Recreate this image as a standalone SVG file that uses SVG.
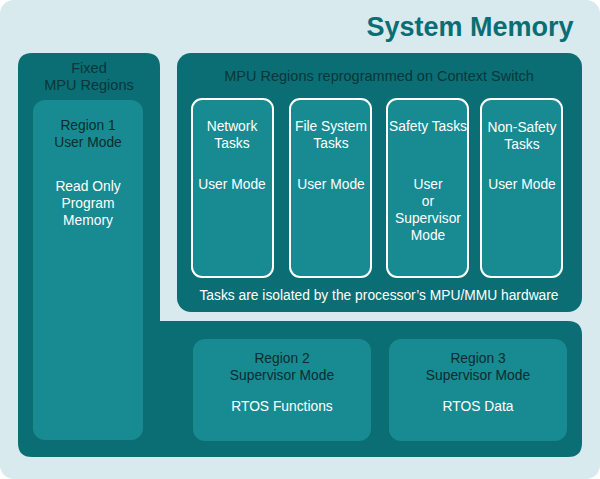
<svg xmlns="http://www.w3.org/2000/svg" width="600" height="479" viewBox="0 0 600 479">
<style>
.dk{fill:#0b6e74}
.bx{fill:#178b91}
.tk{fill:#178b91;stroke:#fff;stroke-width:2}
text{font-family:"Helvetica Neue","Liberation Sans",Arial,sans-serif;font-size:13.8px;text-anchor:middle}
.b{fill:#0c2b2e}
.w{fill:#ffffff}
.h{fill:#08363a;font-size:14.5px}
</style>
<rect x="0" y="0" width="600" height="479" rx="14" fill="#d8eaed"/>
<text x="470" y="36" style="font-size:27px;font-weight:600;fill:#0b6e74;text-anchor:middle">System Memory</text>
<g id="fixed">
<path class="dk" d="M32 53 H146 Q160 53 160 67 V321 H568 Q582 321 582 335 V443 Q582 457 568 457 H32 Q18 457 18 443 V67 Q18 53 32 53 Z"/>
<text class="h" x="89" y="73">Fixed</text>
<text class="h" x="89" y="90">MPU Regions</text>
</g>
<g id="region1">
<rect class="bx" x="33" y="100" width="110" height="340" rx="12"/>
<text class="b" x="88" y="130">Region 1</text>
<text class="b" x="88" y="147">User Mode</text>
<text class="w" x="88" y="191">Read Only</text>
<text class="w" x="88" y="208">Program</text>
<text class="w" x="88" y="225">Memory</text>
</g>
<g id="reprog">
<rect class="dk" x="177" y="53" width="405" height="259" rx="14"/>
<text class="h" x="379" y="81">MPU Regions reprogrammed on Context Switch</text>
<text class="w" x="379" y="300">Tasks are isolated by the processor’s MPU/MMU hardware</text>
</g>
<g id="network">
<rect class="tk" x="192" y="99" width="81" height="178" rx="10"/>
<text class="w" x="232" y="131">Network</text>
<text class="w" x="232" y="148">Tasks</text>
<text class="w" x="232" y="189">User Mode</text>
</g>
<g id="filesystem">
<rect class="tk" x="290" y="99" width="81" height="178" rx="10"/>
<text class="w" x="331" y="131">File System</text>
<text class="w" x="331" y="148">Tasks</text>
<text class="w" x="331" y="189">User Mode</text>
</g>
<g id="safety">
<rect class="tk" x="387" y="99" width="81" height="178" rx="10"/>
<text class="w" x="428" y="131">Safety Tasks</text>
<text class="w" x="428" y="189">User</text>
<text class="w" x="428" y="206">or</text>
<text class="w" x="428" y="223">Supervisor</text>
<text class="w" x="428" y="240">Mode</text>
</g>
<g id="nonsafety">
<rect class="tk" x="481" y="99" width="81" height="178" rx="10"/>
<text class="w" x="522" y="132">Non-Safety</text>
<text class="w" x="522" y="149">Tasks</text>
<text class="w" x="522" y="189">User Mode</text>
</g>
<g id="region2">
<rect class="bx" x="193" y="339" width="178" height="102" rx="12"/>
<text class="b" x="282" y="363">Region 2</text>
<text class="b" x="282" y="380">Supervisor Mode</text>
<text class="w" x="282" y="411">RTOS Functions</text>
</g>
<g id="region3">
<rect class="bx" x="389" y="339" width="178" height="102" rx="12"/>
<text class="b" x="478" y="363">Region 3</text>
<text class="b" x="478" y="380">Supervisor Mode</text>
<text class="w" x="478" y="411">RTOS Data</text>
</g>
<g id="connectors"></g>
</svg>
